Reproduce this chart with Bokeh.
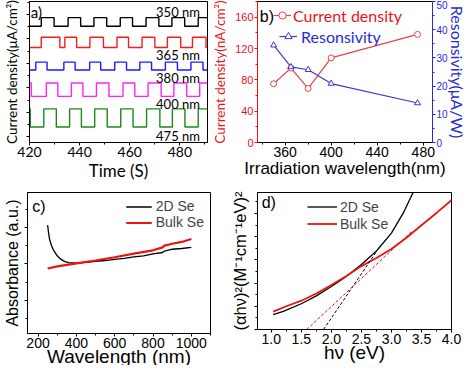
from bokeh.plotting import figure
from bokeh.models import (Range1d, LinearAxis, SingleIntervalTicker, Legend, LegendItem, Label,
                          CustomJSTickFormatter, PrintfTickFormatter)
from bokeh.layouts import row, column
from bokeh.embed import file_html
from bokeh.resources import INLINE

# ---------------- Panel a data ----------------
a_time_range = [420, 491]
a_labels = ["350 nm", "365 nm", "380 nm", "400 nm", "475 nm"]
a_colors = ["#000000", "#ff1a1a", "#1a1aff", "#ff22ff", "#1a8a1a"]
a_low = [4.52, 3.65, 2.73, 1.65, 0.40]
a_high = [4.87, 4.07, 3.05, 2.20, 1.14]
a_start_high = [False, False, False, True, True]
a_edges = [
    [424.7, 429.8, 435.4, 440.4, 445.7, 450.8, 456.2, 461.1, 466.5, 471.6, 476.8, 481.9, 487.3],
    [424.7, 432.1, 434.1, 438.8, 444.1, 449.5, 454.9, 459.5, 464.9, 470.0, 475.0, 480.3, 485.0, 490.4],
    [422.5, 427.0, 433.7, 438.2, 444.0, 448.4, 454.0, 458.7, 464.0, 468.7, 474.2, 479.0, 484.4, 489.2],
    [420.7, 426.7, 431.3, 436.7, 441.3, 446.7, 451.7, 457.3, 462.0, 467.3, 472.5, 477.6, 482.7, 487.9],
    [420.3, 425.7, 430.7, 436.0, 440.7, 446.0, 451.0, 456.4, 461.3, 466.7, 472.0, 477.0, 482.0, 487.3],
]
a_label_x = [488, 488, 488, 488, 488]
a_label_y = [5.1, 3.33, 2.39, 1.33, 0.04]

# ---------------- Panel b data ----------------
b_wavelength = [350, 365, 380, 400, 475]
b_current = [75, 95, 69, 108, 138]
b_resp = [34.5, 26.8, 25.8, 20.9, 14.0]

# ---------------- Panel c data ----------------
c_wl_2d = [250, 255, 260, 270, 280, 300, 320, 340, 360, 400, 450, 500, 550, 600, 650, 700,
           750, 800, 850, 860, 900, 950, 1000]
c_abs_2d = [3.06, 2.85, 2.68, 2.50, 2.38, 2.22, 2.12, 2.06, 2.03, 2.02, 2.04, 2.07, 2.09, 2.12,
            2.15, 2.19, 2.22, 2.27, 2.31, 2.35, 2.40, 2.42, 2.45]
c_wl_bulk = [250, 300, 400, 500, 600, 700, 800, 850, 860, 900, 950, 1000]
c_abs_bulk = [1.87, 1.93, 2.01, 2.09, 2.18, 2.28, 2.37, 2.45, 2.50, 2.55, 2.60, 2.68]

# ---------------- Panel d data ----------------
d_ev_2d = [1.03, 1.2, 1.5, 1.75, 2.0, 2.2, 2.3, 2.5, 2.75, 3.0, 3.2, 3.36]
d_y_2d = [0.64, 0.78, 1.11, 1.45, 1.85, 2.2, 2.39, 2.8, 3.38, 4.15, 5.03, 5.9]
d_ev_bulk = [1.03, 1.25, 1.5, 1.75, 2.0, 2.25, 2.5, 2.75, 3.0, 3.25, 3.5, 3.75, 4.0]
d_y_bulk = [0.77, 1.0, 1.24, 1.55, 1.92, 2.3, 2.73, 3.08, 3.47, 3.95, 4.49, 5.02, 5.57]
d_fit_2d_x = [1.87, 2.75]
d_fit_2d_y = [0.0, 3.35]
d_fit_bulk_x = [1.59, 3.35]
d_fit_bulk_y = [0.0, 4.25]

ARIAL = "Liberation Sans"
CAL = "Lato"
RED = "#e8141c"
BLUE = "#2a2ad8"
BLANK = CustomJSTickFormatter(code="return ''")


def style_axis(ax, font, tick_size, label_size, color="black"):
    ax.axis_label_text_font = font
    ax.axis_label_text_font_style = "normal"
    ax.axis_label_text_font_size = label_size
    ax.axis_label_text_color = color
    ax.major_label_text_font = font
    ax.major_label_text_font_size = tick_size
    ax.major_label_text_color = color
    ax.axis_line_color = color
    ax.major_tick_line_color = color
    ax.minor_tick_line_color = color
    ax.major_tick_in = 0
    ax.major_tick_out = 3
    ax.minor_tick_in = 0
    ax.minor_tick_out = 2
    ax.major_label_standoff = 1


def base(fw, fh, left, right, top, bottom, xr, yr):
    p = figure(frame_width=fw, frame_height=fh, min_border_left=left, min_border_right=right,
               min_border_top=top, min_border_bottom=bottom, x_range=Range1d(*xr),
               y_range=Range1d(*yr), output_backend="svg", toolbar_location=None)
    p.xgrid.visible = False
    p.ygrid.visible = False
    p.outline_line_color = "black"
    p.outline_line_alpha = 1
    p.background_fill_color = "white"
    p.border_fill_color = "white"
    return p


# ---------------- Panel a ----------------
pa = base(178, 141, 27, 2, 1, 36, a_time_range, (-0.235, 5.53))
for edges, lo, hi, sh, col in zip(a_edges, a_low, a_high, a_start_high, a_colors):
    xs = [a_time_range[0]]
    state = sh
    ys = [hi if state else lo]
    for e in edges:
        xs += [e, e]
        ys += [hi if state else lo]
        state = not state
        ys += [hi if state else lo]
    xs.append(a_time_range[1])
    ys.append(hi if state else lo)
    pa.line(xs, ys, line_color=col, line_width=1.4)
for lab, lx, ly in zip(a_labels, a_label_x, a_label_y):
    pa.add_layout(Label(x=lx, y=ly, text=lab, text_align="right", text_baseline="middle",
                        text_font=CAL, text_font_size="13px", text_color="black"))
pa.add_layout(Label(x=420.5, y=5.1, text="a)", text_align="left", text_baseline="middle",
                    text_font=CAL, text_font_size="15px", text_color="black"))
pa.xaxis.ticker = SingleIntervalTicker(interval=20, num_minor_ticks=2)
pa.yaxis.ticker = SingleIntervalTicker(interval=1, num_minor_ticks=2)
pa.xaxis.axis_label = "Time (S)"
pa.yaxis.axis_label = "Current density(μA/cm²)"
style_axis(pa.xaxis[0], CAL, "14px", "17px")
style_axis(pa.yaxis[0], CAL, "14px", "13.5px")
pa.yaxis.formatter = BLANK
pa.yaxis.axis_label_standoff = 7
pa.xaxis.axis_label_standoff = 0

# ---------------- Panel b ----------------
pb = base(175, 141, 46, 30, 1, 36, (336, 488), (0, 180))
pb.extra_y_ranges = {"res": Range1d(0, 50)}
ax_r = LinearAxis(y_range_name="res", axis_label="Resonsivity(μA/W)",
                  ticker=SingleIntervalTicker(interval=10, num_minor_ticks=2))
pb.add_layout(ax_r, "right")
r1 = pb.line(b_wavelength, b_current, line_color="#e8424a", line_width=1.2)
r2 = pb.scatter(b_wavelength, b_current, marker="circle", size=6, line_color="#e8424a",
                fill_color="white", line_width=1)
r3 = pb.line(b_wavelength, b_resp, y_range_name="res", line_color="#3a3ad0", line_width=1.2)
r4 = pb.scatter(b_wavelength, b_resp, y_range_name="res", marker="triangle", size=6,
                line_color="#3a3ad0", fill_color="white", line_width=1)
pb.xaxis.ticker = SingleIntervalTicker(interval=40, num_minor_ticks=2)
pb.yaxis[0].ticker = SingleIntervalTicker(interval=40, num_minor_ticks=2)
pb.xaxis.axis_label = "Irradiation wavelength(nm)"
pb.yaxis[0].axis_label = "Current density(nA/cm²)"
style_axis(pb.xaxis[0], ARIAL, "14px", "17px")
style_axis(pb.yaxis[0], ARIAL, "11px", "13.5px", RED)
pb.yaxis[0].axis_label_text_font = CAL
style_axis(ax_r, ARIAL, "10px", "16px", BLUE)
ax_r.axis_label_text_font = CAL
pb.xaxis.axis_label_standoff = -1
pb.yaxis[0].axis_label_standoff = 4
ax_r.axis_label_standoff = -3
pb.add_layout(Label(x=338, y=161, text="b)", text_align="left", text_baseline="middle",
                    text_font=ARIAL, text_font_size="16px", text_color="black"))
leg1 = Legend(items=[LegendItem(label="Current density", renderers=[r1, r2])],
              location=(16, 117), label_text_color=RED, label_text_font=CAL,
              label_text_font_size="16px", glyph_width=18, label_standoff=2, padding=0,
              margin=0, background_fill_alpha=0, border_line_alpha=0)
leg2 = Legend(items=[LegendItem(label="Resonsivity", renderers=[r3, r4])],
              location=(22, 96), label_text_color=BLUE, label_text_font=CAL,
              label_text_font_size="16px", glyph_width=18, label_standoff=4, padding=0,
              margin=0, background_fill_alpha=0, border_line_alpha=0)
pb.add_layout(leg1)
pb.add_layout(leg2)

# ---------------- Panel c ----------------
pc = base(183, 141, 21, 16, 5, 36, (145, 1100), (0.087, 3.957))
c1 = pc.line(c_wl_2d, c_abs_2d, line_color="black", line_width=1.3)
c2 = pc.line(c_wl_bulk, c_abs_bulk, line_color="#ee1111", line_width=2.2)
pc.xaxis.ticker = SingleIntervalTicker(interval=200, num_minor_ticks=2)
pc.yaxis.ticker = SingleIntervalTicker(interval=1, num_minor_ticks=2)
pc.xaxis.axis_label = "Wavelength (nm)"
pc.yaxis.axis_label = "Absorbance (a.u.)"
style_axis(pc.xaxis[0], ARIAL, "14px", "19px")
style_axis(pc.yaxis[0], ARIAL, "14px", "16px")
pc.yaxis.formatter = BLANK
pc.yaxis.axis_label_standoff = 4
pc.xaxis.axis_label_standoff = -5
pc.add_layout(Label(x=170, y=3.57, text="c)", text_align="left", text_baseline="middle",
                    text_font=ARIAL, text_font_size="16px", text_color="black"))
legc = Legend(items=[LegendItem(label="2D Se", renderers=[c1]),
                     LegendItem(label="Bulk Se", renderers=[c2])],
              location="top_right", label_text_font=ARIAL, label_text_font_size="14px",
              glyph_width=26, glyph_height=15, label_height=15, label_standoff=4, spacing=0,
              padding=2, margin=4, background_fill_alpha=0, border_line_alpha=0)
pc.add_layout(legc)

# ---------------- Panel d ----------------
pd_ = base(194, 137, 31, 13, 9, 36, (0.77, 4.0), (0.0, 5.9))
d1 = pd_.line(d_ev_2d, d_y_2d, line_color="black", line_width=1.3)
d2 = pd_.line(d_ev_bulk, d_y_bulk, line_color="#ee1111", line_width=1.8)
pd_.line(d_fit_2d_x, d_fit_2d_y, line_color="black", line_width=1, line_dash="3 2")
pd_.line(d_fit_bulk_x, d_fit_bulk_y, line_color="#ee1111", line_width=1, line_dash="3 2")
pd_.xaxis.ticker = SingleIntervalTicker(interval=0.5, num_minor_ticks=2)
pd_.xaxis.formatter = PrintfTickFormatter(format="%.1f")
pd_.yaxis.ticker = SingleIntervalTicker(interval=1, num_minor_ticks=2)
pd_.xaxis.axis_label = "hν (eV)"
pd_.yaxis.axis_label = "(αhν)²(M⁻¹cm⁻¹eV)²"
style_axis(pd_.xaxis[0], ARIAL, "14px", "19px")
style_axis(pd_.yaxis[0], ARIAL, "14px", "16.5px")
pd_.yaxis.formatter = BLANK
pd_.yaxis.axis_label_standoff = 6
pd_.xaxis.axis_label_standoff = -5
pd_.add_layout(Label(x=0.84, y=5.45, text="d)", text_align="left", text_baseline="middle",
                     text_font=ARIAL, text_font_size="16px", text_color="black"))
legd = Legend(items=[LegendItem(label="2D Se", renderers=[d1]),
                     LegendItem(label="Bulk Se", renderers=[d2])],
              location=(50, 97), label_text_font=ARIAL, label_text_font_size="14px",
              glyph_width=30, glyph_height=17, label_height=17, label_standoff=3, spacing=0,
              padding=0, margin=0, background_fill_alpha=0, border_line_alpha=0)
pd_.add_layout(legd)

layout = column(row(pa, pb, spacing=0), row(pc, pd_, spacing=0), spacing=0)
open("out.html", "w").write(file_html(layout, INLINE))
